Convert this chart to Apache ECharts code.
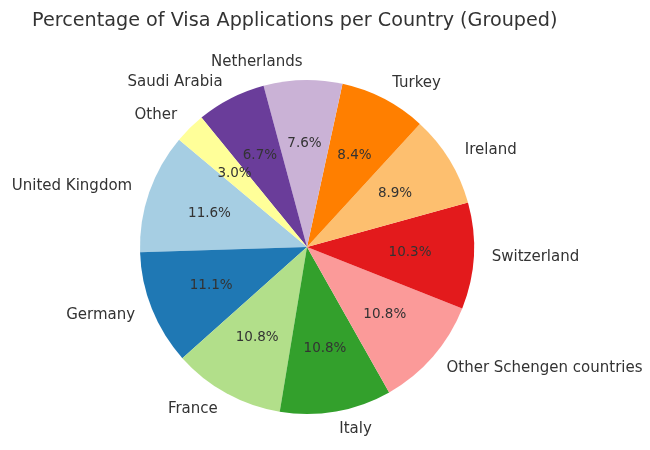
<!DOCTYPE html>
<html>
<head>
<meta charset="utf-8">
<script src="https://cdn.jsdelivr.net/npm/echarts@6/dist/echarts.min.js"></script>
<style>
html,body{margin:0;padding:0;background:#fff;}
#chart{width:650px;height:450px;}
</style>
</head>
<body>
<div id="chart"></div>
<script>
const categories = ['United Kingdom','Germany','France','Italy','Other Schengen countries','Switzerland','Ireland','Turkey','Netherlands','Saudi Arabia','Other'];
const values = [11.6, 11.1, 10.8, 10.8, 10.8, 10.3, 8.9, 8.4, 7.6, 6.7, 3.0];
const colors = ['#a6cee3','#1f78b4','#b2df8a','#33a02c','#fb9a99','#e31a1c','#fdbf6f','#ff7f00','#cab2d6','#6a3d9a','#ffff99'];
const titleText = 'Percentage of Visa Applications per Country (Grouped)';

const R = 167;
const cx = 307, cy = 247;
const font = 'DejaVu Sans';

const data = categories.map((c, i) => ({ name: c, value: values[i], itemStyle: { color: colors[i] } }));
const data2 = categories.map((c, i) => ({ name: c, value: values[i] }));

const chart = echarts.init(document.getElementById('chart'), null, { renderer: 'canvas' });
chart.setOption({
  backgroundColor: '#fff',
  animation: false,
  title: {
    text: titleText,
    left: 32,
    top: 12,
    padding: 0,
    textStyle: { fontFamily: font, fontSize: 19.2, fontWeight: 'normal', color: '#333' }
  },
  series: [
    {
      type: 'pie',
      center: [cx, cy],
      radius: R,
      startAngle: 140,
      clockwise: false,
      avoidLabelOverlap: false,
      silent: true,
      data: data,
      label: {
        show: true,
        position: 'outside',
        formatter: '{b}',
        fontFamily: font,
        fontSize: 15,
        color: '#333',
        distanceToLabelLine: 0
      },
      labelLine: { show: false, length: 18, length2: 0 }
    },
    {
      type: 'pie',
      center: [cx, cy],
      radius: [R * 0.2, R],
      startAngle: 140,
      clockwise: false,
      avoidLabelOverlap: false,
      silent: true,
      data: data2,
      itemStyle: { color: 'rgba(0,0,0,0)' },
      label: {
        show: true,
        position: 'inside',
        formatter: p => p.value.toFixed(1) + '%',
        fontFamily: font,
        fontSize: 13.5,
        color: '#333'
      },
      labelLine: { show: false }
    }
  ]
});
</script>
</body>
</html>
